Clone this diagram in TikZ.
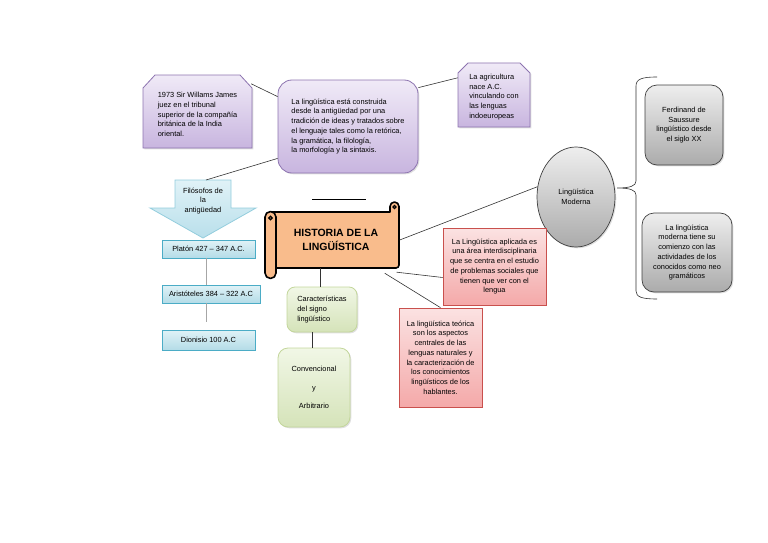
\documentclass[tikz,border=0pt]{standalone}
\usepackage{fontspec}
\setmainfont{Liberation Sans}
\usetikzlibrary{calc,shapes.geometric,shadows}

\definecolor{lilaBorde}{HTML}{8D74B0}
\definecolor{lilaArriba}{HTML}{F0EAF7}
\definecolor{lilaAbajo}{HTML}{C8B5DF}
\definecolor{grisBorde}{HTML}{404040}
\definecolor{grisArriba}{HTML}{EEEEEE}
\definecolor{grisAbajo}{HTML}{ABABAB}
\definecolor{azulBorde}{HTML}{4BACC6}
\definecolor{azulArriba}{HTML}{E0F2F7}
\definecolor{azulAbajo}{HTML}{B4DCE7}
\definecolor{flechaBorde}{HTML}{93CDDD}
\definecolor{flechaFondo}{HTML}{B9DFEB}
\definecolor{verdeBorde}{HTML}{C3D69B}
\definecolor{verdeArriba}{HTML}{F1F7E6}
\definecolor{verdeAbajo}{HTML}{D5E3B9}
\definecolor{rojoBorde}{HTML}{C9504D}
\definecolor{rojoArriba}{HTML}{FBE2E2}
\definecolor{rojoAbajo}{HTML}{F4A9A9}
\definecolor{naranja}{HTML}{F9BC8C}

\tikzset{
	sombra/.style={drop shadow={opacity=0.25,shadow xshift=1.3pt,shadow yshift=-1.3pt}},
	lila/.style={draw=lilaBorde, line width=0.8pt, top color=lilaArriba, bottom color=lilaAbajo, sombra},
	texto/.style={align=left},
	gris/.style={draw=grisBorde, line width=0.7pt, top color=grisArriba, bottom color=grisAbajo, sombra, align=center},
	azul/.style={draw=azulBorde, line width=0.8pt, top color=azulArriba, bottom color=azulAbajo, sombra, align=center},
	verde/.style={draw=verdeBorde, line width=0.8pt, top color=verdeArriba, bottom color=verdeAbajo, sombra},
	rojo/.style={draw=rojoBorde, line width=0.7pt, top color=rojoArriba, bottom color=rojoAbajo, sombra, align=center},
	rollo/.style={draw=black, line width=1.6pt, fill=naranja, line join=round},
	enlace/.style={line width=0.6pt, color=black!80},
	gris enlace/.style={line width=1pt, color=black!35}
}

\begin{document}
\begin{tikzpicture}[x=1pt, y=-1pt, font=\fontsize{7.4}{9.7}\selectfont]
			%%%%% START %%%%%
			\useasboundingbox (0,0) rectangle (768,543);
			
			% notas lilas
			\draw[lila] (143,88) -- (155,75) -- (240,75) -- (252,88) -- (252,148) -- (143,148) -- cycle;
			\node[texto, minimum width=109pt, minimum height=67pt] (sir) at (197.5,114.5) {1973 Sir Willams James\\juez en el tribunal\\superior de la compañía\\británica de la India\\oriental.};
			\node[lila, texto, rounded corners=14pt, minimum width=140pt, minimum height=93pt] (construida) at (348,126.5) {La lingüística está construida\\desde la antigüedad por una\\tradición de ideas y tratados sobre\\el lenguaje tales como la retórica,\\la gramática, la filología,\\la morfología y la sintaxis.};
			\draw[lila] (458,73) -- (468,63) -- (520,63) -- (530,73) -- (530,127) -- (458,127) -- cycle;
			\node[texto, minimum width=72pt, minimum height=60pt] (agricultura) at (494,97) {La agricultura\\nace A.C.\\vinculando con\\las lenguas\\indoeuropeas};
			
			% lingüística moderna
			\node[gris, ellipse, minimum width=78pt, minimum height=100pt] (moderna) at (576,197) {Lingüística\\Moderna};
			\node[gris, rounded corners=12pt, minimum width=78pt, minimum height=80pt] (ferdinand) at (684,125) {Ferdinand de\\Saussure\\lingüístico desde\\el siglo XX};
			\node[gris, rounded corners=12pt, minimum width=90pt, minimum height=79pt] (neo) at (687,252.5) {La lingüística\\moderna tiene su\\comienzo con las\\actividades de los\\conocidos como neo\\gramáticos};
			
			\draw[enlace] (657,77) .. controls (642,77) and (636,79) .. (636,86) -- (636,181) .. controls (636,186) and (630,188) .. (617,188) .. controls (630,188) and (636,190) .. (636,195) -- (636,291) .. controls (636,297) and (642,299) .. (657,299);
			
			% flecha de los filosofos
			\draw[draw=flechaBorde, line width=0.8pt, top color=azulArriba, bottom color=flechaFondo] (175,180) -- (231,180) -- (231,208) -- (256,208) -- (203,238) -- (150,208) -- (175,208) -- cycle;
			\node[align=center] (filosofos) at (203,201) {Filósofos de\\la\\antigüedad};
			\coordinate (flechaTop) at (206,180);
			
			\node[azul, minimum width=93pt, minimum height=18pt] (platon) at (208.5,249) {Platón 427 – 347 A.C.};
			\node[azul, minimum width=98pt, minimum height=18pt] (aristoteles) at (211,294) {Aristóteles 384 – 322 A.C};
			\node[azul, minimum width=93pt, minimum height=20pt] (dionisio) at (208.5,340) {Dionisio 100 A.C};
			\coordinate (ejeC) at (206,0);
			\draw[gris enlace] (platon.south -| ejeC) -- (aristoteles.north -| ejeC);
			\draw[gris enlace, shorten >=8pt] (aristoteles.south -| ejeC) -- (dionisio.north -| ejeC);
			
			% pergamino
			\draw[line width=0.8pt] (312,199) -- (366,199);
			\draw[rollo] (272,212) -- (390,212) -- (390,206.5) arc[start angle=180, end angle=360, radius=4.5] [rounded corners=3pt] -- (399,268) -- (272,268) [sharp corners] -- cycle;
			\draw[line width=1.2pt, fill=naranja!70!black] (394.5,207) circle (1.6);
			\draw[rollo] (265,217) arc[start angle=180, end angle=360, radius=5.5] -- (276,273) arc[start angle=0, end angle=180, radius=5.5] -- cycle;
			\draw[line width=1.2pt, fill=naranja!70!black] (270.5,218) circle (1.8);
			\node[font=\bfseries\fontsize{10.5}{14.5}\selectfont, align=center, minimum width=127pt, minimum height=56pt] (historia) at (336,240) {HISTORIA DE LA\\LINGÜÍSTICA};
			
			\node[verde, rounded corners=8pt, align=left, minimum width=70pt, minimum height=45pt] (caracteristicas) at (322,309.5) {Características\\del signo\\lingüístico};
			\node[verde, rounded corners=10pt, align=center, minimum width=72pt, minimum height=79pt] (convencional) at (314,387.5) {Convencional\\[9pt]y\\[9pt]Arbitrario};
			
			\node[rojo, minimum width=103pt, minimum height=77pt] (aplicada) at (494.5,266.5) {La Lingüística aplicada es\\una área interdisciplinaria\\que se centra en el estudio\\de problemas sociales que\\tienen que ver con el\\lengua};
			\node[rojo, minimum width=83pt, minimum height=99pt] (teorica) at (440.5,357.5) {La lingüística teórica\\son los aspectos\\centrales de las\\lenguas naturales y\\la caracterización de\\los conocimientos\\lingüísticos de los\\hablantes.};
			
			% enlaces
			\draw[enlace] ($(sir.north east)+(-1,3)$) -- ($(construida.north west)+(0,17)$);
			\draw[enlace] ($(construida.south west)+(0,-15)$) -- (flechaTop);
			\draw[enlace] ($(construida.north east)+(0,8)$) -- ($(agricultura.north west)+(0,11)$);
			\draw[enlace] (historia.east) -- (moderna.165);
			\draw[enlace] ($(historia.south east)+(-3,4)$) -- ($(aplicada.west)+(0,11)$);
			\draw[enlace] ($(historia.south east)+(-15,5)$) -- (teorica.north);
			\coordinate (ejeA) at (320,0);
			\coordinate (ejeB) at (312,0);
			\draw[enlace] (historia.south -| ejeA) -- (caracteristicas.north -| ejeA);
			\draw[enlace] (caracteristicas.south -| ejeB) -- (convencional.north -| ejeB);
			
			%%%%% END %%%%%
\end{tikzpicture}
\end{document}
